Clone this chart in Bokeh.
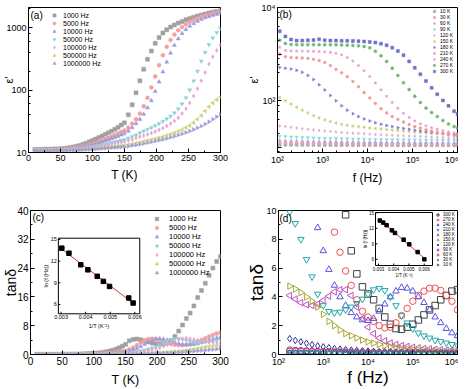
import numpy as np
from bokeh.plotting import figure
from bokeh.layouts import row, column
from bokeh.models import (Range1d, LinearScale, Legend, LegendItem, Label,
                          SingleIntervalTicker, LogTicker, ColumnDataSource)
from bokeh.embed import file_html
from bokeh.resources import INLINE
from bokeh.core.properties import value

NA = float("nan")
FONT = "Liberation Sans"
HP = np.pi / 2

# ---------------- panel (a) / (c): temperature sweeps ----------------
T_A = [10, 15, 20, 25, 30, 35, 40, 45, 50, 55, 60, 65, 70, 75, 80, 85, 90, 95, 100, 105,
       110, 115, 120, 125, 130, 135, 140, 145, 150,
       156, 162, 168, 174, 180, 186, 192, 198, 204, 210, 216, 222, 228, 234, 240, 246,
       252, 258, 264, 270, 276, 282, 288, 294, 300]
FREQ_LABELS = ["1000 Hz", "5000 Hz", "10000 Hz", "50000 Hz", "100000 Hz", "500000 Hz", "1000000 Hz"]

EPS_1000 = [11.2, 11.2, 11.2, 11.3, 11.3, 11.3, 11.4, 11.4, 11.5, 11.6, 11.8, 12.0, 12.3, 12.6, 13.0, 13.5, 14.1, 14.8, 15.6, 16.4,
            17.3, 18.4, 19.5, 20.7, 22.0, 23.6, 25.4, 27.5, 29.8,
            40, 58, 90, 140, 215, 310, 420, 560, 690, 820, 920, 1020, 1100, 1180, 1250, 1330, 1400, 1460, 1530, 1590, 1650, 1710, 1760, 1810, 1860]
EPS_5000 = [11.1, 11.1, 11.1, 11.1, 11.2, 11.2, 11.2, 11.3, 11.3, 11.4, 11.5, 11.6, 11.8, 12.0, 12.2, 12.5, 12.9, 13.3, 13.8, 14.3,
            14.9, 15.6, 16.4, 17.2, 18.1, 19.1, 20.2, 21.3, 22.5,
            25, 29, 34, 42, 55, 75, 110, 165, 250, 360, 490, 630, 770, 900, 1020, 1130, 1230, 1320, 1400, 1480, 1550, 1620, 1680, 1730, 1780]
EPS_10000 = [11.0, 11.0, 11.0, 11.1, 11.1, 11.1, 11.2, 11.2, 11.3, 11.3, 11.4, 11.5, 11.7, 11.8, 12.0, 12.3, 12.6, 12.9, 13.3, 13.7,
             14.2, 14.8, 15.4, 16.0, 16.7, 17.4, 18.2, 19.1, 20.0,
             22, 25, 29, 34, 41, 52, 68, 95, 135, 195, 280, 390, 520, 660, 800, 930, 1050, 1160, 1260, 1350, 1430, 1500, 1570, 1630, 1690]
EPS_50000 = [10.9, 10.9, 10.9, 11.0, 11.0, 11.0, 11.0, 11.1, 11.1, 11.1, 11.2, 11.3, 11.4, 11.5, 11.6, 11.8, 12.0, 12.2, 12.4, 12.7,
             13.0, 13.3, 13.7, 14.0, 14.4, 14.8, 15.2, 15.6, 16.0,
             17, 18, 19, 20.5, 22, 23.5, 25, 27, 29, 31.5, 34.5, 38, 43, 50, 60, 75, 100, 140, 200, 290, 400, 530, 680, 830, 970]
EPS_100000 = [10.9, 10.9, 10.9, 10.9, 10.9, 11.0, 11.0, 11.0, 11.0, 11.1, 11.1, 11.2, 11.3, 11.4, 11.5, 11.6, 11.8, 12.0, 12.2, 12.4,
              12.6, 12.9, 13.1, 13.4, 13.7, 14.0, 14.3, 14.6, 15.0,
              15.5, 16.2, 17, 17.8, 18.6, 19.5, 20.5, 21.6, 23, 24.5, 26.5, 29, 32, 36, 42, 50, 62, 80, 105, 140, 190, 260, 340, 430, 530]
EPS_500000 = [10.8, 10.8, 10.8, 10.8, 10.8, 10.8, 10.9, 10.9, 10.9, 10.9, 11.0, 11.0, 11.1, 11.1, 11.2, 11.3, 11.4, 11.5, 11.6, 11.7,
              11.8, 12.0, 12.1, 12.2, 12.4, 12.5, 12.7, 12.8, 13.0,
              13.3, 13.7, 14.1, 14.5, 15, 15.5, 16, 16.6, 17.2, 17.9, 18.7, 19.6, 20.6, 21.8, 23.2, 25, 27, 30, 34, 39, 46, 54, 62, 70, 77]
EPS_1000000 = [10.7, 10.7, 10.7, 10.7, 10.7, 10.7, 10.8, 10.8, 10.8, 10.8, 10.8, 10.9, 10.9, 11.0, 11.0, 11.1, 11.1, 11.2, 11.3, 11.4,
               11.5, 11.6, 11.7, 11.8, 11.9, 12.0, 12.1, 12.2, 12.3,
               12.6, 12.9, 13.2, 13.5, 13.9, 14.3, 14.7, 15.2, 15.7, 16.2, 16.8, 17.5, 18.2, 19, 19.9, 20.9, 22, 23.3, 24.8, 26.5, 28.5, 31, 34, 37.5, 41]

TAN_1000 = [0.05, 0.05, 0.05, 0.05, 0.05, 0.05, 0.05, 0.06, 0.06, 0.07, 0.08, 0.09, 0.1, 0.12, 0.15, 0.18, 0.22, 0.27, 0.33, 0.4,
            0.5, 0.62, 0.78, 0.97, 1.2, 1.5, 1.85, 2.3, 2.8,
            3.8, 4.2, 4.3, 4.1, 3.8, 3.5, 3.2, 3.0, 2.9, 3.0, 3.3, 3.9, 5.0, 6.5, 8.2, 10.0, 11.5, 13.5, 15.8, 17.8, 19.8, 22.0, 24.0, 25.8, 27.2]
TAN_5000 = [0.04, 0.04, 0.04, 0.04, 0.04, 0.04, 0.04, 0.05, 0.05, 0.05, 0.06, 0.06, 0.07, 0.08, 0.09, 0.1, 0.12, 0.14, 0.17, 0.2,
            0.24, 0.29, 0.35, 0.42, 0.5, 0.6, 0.72, 0.85, 1.0,
            1.4, 1.9, 2.6, 3.3, 3.9, 4.3, 4.4, 4.3, 4.0, 3.6, 3.2, 2.9, 2.7, 2.6, 2.6, 2.7, 2.9, 3.2, 3.6, 4.0, 4.5, 5.0, 5.4, 5.8, 6.1]
TAN_10000 = [0.03, 0.03, 0.03, 0.03, 0.03, 0.03, 0.04, 0.04, 0.04, 0.04, 0.05, 0.05, 0.06, 0.06, 0.07, 0.08, 0.09, 0.11, 0.13, 0.15,
             0.18, 0.21, 0.25, 0.3, 0.36, 0.43, 0.52, 0.62, 0.75,
             1.0, 1.3, 1.7, 2.2, 2.8, 3.4, 3.9, 4.3, 4.4, 4.3, 4.0, 3.7, 3.3, 3.0, 2.8, 2.7, 2.7, 2.8, 3.0, 3.3, 3.6, 4.0, 4.3, 4.6, 4.9]
TAN_50000 = [0.03, 0.03, 0.03, 0.03, 0.03, 0.03, 0.03, 0.03, 0.03, 0.04, 0.04, 0.04, 0.04, 0.05, 0.05, 0.06, 0.06, 0.07, 0.08, 0.09,
             0.1, 0.12, 0.14, 0.16, 0.19, 0.22, 0.26, 0.31, 0.37,
             0.5, 0.6, 0.8, 1.0, 1.2, 1.5, 1.8, 2.2, 2.7, 3.2, 3.7, 4.1, 4.4, 4.4, 4.2, 3.9, 3.7, 3.5, 3.4, 3.4, 3.5, 3.6, 3.8, 4.0, 4.2]
TAN_100000 = [0.02, 0.02, 0.02, 0.02, 0.02, 0.02, 0.02, 0.03, 0.03, 0.03, 0.03, 0.03, 0.04, 0.04, 0.04, 0.05, 0.05, 0.06, 0.07, 0.08,
              0.09, 0.1, 0.12, 0.14, 0.16, 0.18, 0.21, 0.25, 0.3,
              0.4, 0.5, 0.6, 0.75, 0.9, 1.1, 1.3, 1.6, 1.9, 2.3, 2.7, 3.2, 3.7, 4.1, 4.4, 4.5, 4.4, 4.2, 4.0, 3.8, 3.6, 3.5, 3.4, 3.35, 3.3]
TAN_500000 = [0.02, 0.02, 0.02, 0.02, 0.02, 0.02, 0.02, 0.02, 0.02, 0.02, 0.02, 0.03, 0.03, 0.03, 0.03, 0.04, 0.04, 0.04, 0.05, 0.05,
              0.06, 0.07, 0.08, 0.09, 0.1, 0.11, 0.13, 0.15, 0.18,
              0.2, 0.22, 0.25, 0.28, 0.32, 0.36, 0.4, 0.45, 0.5, 0.56, 0.63, 0.7, 0.8, 0.9, 1.0, 1.15, 1.3, 1.5, 1.7, 1.9, 2.1, 2.3, 2.4, 2.5, 2.5]
TAN_1000000 = [0.01, 0.01, 0.01, 0.01, 0.01, 0.01, 0.01, 0.01, 0.01, 0.02, 0.02, 0.02, 0.02, 0.02, 0.02, 0.03, 0.03, 0.03, 0.03, 0.04,
               0.04, 0.05, 0.05, 0.06, 0.07, 0.08, 0.09, 0.11, 0.13,
               0.15, 0.17, 0.19, 0.21, 0.23, 0.26, 0.29, 0.32, 0.35, 0.39, 0.43, 0.48, 0.53, 0.59, 0.65, 0.72, 0.8, 0.9, 1.0, 1.1, 1.2, 1.3, 1.4, 1.5, 1.6]

# inset of (c): ln f versus 1/T
INV_T_C = [0.00303, 0.00332, 0.0038, 0.00409, 0.00447, 0.00472, 0.00497, 0.00575, 0.00593]
LN_F_C = [13.8, 13.1, 11.5, 10.8, 9.9, 9.2, 8.5, 6.9, 6.2]

# ---------------- panel (b): eps' versus frequency ----------------
F_B = [112, 150, 200, 266, 355, 473, 631, 841, 1122, 1496, 1995, 2661, 3548, 4732, 6310, 8414, 11220,
       14962, 19953, 26607, 35481, 47315, 63096, 84140, 112202, 149624, 199526, 266073, 354813,
       473151, 630957, 841395, 1000000]
TEMP_LABELS_B = ["10 K", "30 K", "60 K", "90 K", "120 K", "150 K", "180 K", "210 K", "240 K", "270 K", "300 K"]
EPS_10K = [11.5, 11.48, 11.46, 11.44, 11.42, 11.4, 11.38, 11.36, 11.35, 11.34, 11.33, 11.32, 11.31, 11.3, 11.29, 11.28, 11.27,
           11.26, 11.25, 11.24, 11.23, 11.22, 11.21, 11.2, 11.19, 11.18, 11.17, 11.16, 11.15, 11.14, 11.13, 11.12, 11.1]
EPS_30K = [12.6, 12.55, 12.5, 12.45, 12.4, 12.38, 12.35, 12.32, 12.3, 12.28, 12.26, 12.24, 12.22, 12.2, 12.18, 12.16, 12.14,
           12.12, 12.1, 12.08, 12.06, 12.04, 12.02, 12.0, 11.98, 11.96, 11.94, 11.92, 11.9, 11.88, 11.86, 11.84, 11.82]
EPS_60K = [14.2, 14.0, 13.9, 13.8, 13.7, 13.6, 13.55, 13.5, 13.45, 13.4, 13.35, 13.3, 13.25, 13.2, 13.15, 13.1, 13.05,
           13.0, 12.98, 12.95, 12.92, 12.9, 12.88, 12.85, 12.82, 12.8, 12.78, 12.75, 12.72, 12.7, 12.68, 12.65, 12.6]
EPS_90K = [17.5, 17.2, 16.9, 16.7, 16.5, 16.3, 16.1, 16.0, 15.8, 15.7, 15.6, 15.5, 15.4, 15.3, 15.2, 15.1, 15.0,
           14.95, 14.9, 14.85, 14.8, 14.75, 14.7, 14.65, 14.6, 14.55, 14.5, 14.45, 14.4, 14.35, 14.3, 14.25, 14.2]
EPS_120K = [29, 28, 27, 26, 25.2, 24.5, 23.8, 23.2, 22.6, 22, 21.5, 21, 20.6, 20.2, 19.9, 19.6, 19.3,
            19, 18.7, 18.4, 18.2, 18, 17.8, 17.6, 17.4, 17.2, 17, 16.8, 16.6, 16.4, 16.2, 16, 15.9]
EPS_150K = [118, 100, 85, 73, 63, 55, 48, 43, 39, 36, 33.5, 31.5, 30, 28.8, 27.8, 27, 26.2,
            25.5, 24.8, 24.2, 23.6, 23, 22.5, 22, 21.5, 21, 20.6, 20.2, 19.8, 19.4, 19, 18.7, 18.5]
EPS_180K = [520, 500, 480, 450, 410, 350, 285, 220, 170, 130, 100, 78, 63, 53, 46, 41, 37,
            34, 31.5, 29.5, 28, 26.5, 25.5, 24.5, 23.5, 22.5, 21.8, 21, 20.5, 20, 19.5, 19, 18.8]
EPS_210K = [1000, 880, 850, 840, 830, 810, 780, 730, 660, 570, 470, 400, 330, 260, 200, 150, 115,
            88, 68, 55, 46, 40, 35, 31, 28, 26, 24, 22.5, 21, 20, 19, 18, 17.5]
EPS_240K = [1400, 1200, 1170, 1160, 1160, 1150, 1150, 1140, 1120, 1090, 1040, 960, 850, 710, 570, 440, 330,
            240, 172, 125, 92, 69, 54, 44, 37, 32, 29, 26.5, 24.5, 23, 21.5, 20.5, 20]
EPS_270K = [2000, 1700, 1620, 1600, 1600, 1600, 1600, 1600, 1595, 1590, 1585, 1575, 1560, 1540, 1510, 1460, 1370,
            1150, 920, 700, 500, 350, 245, 175, 125, 92, 70, 56, 46, 38, 32, 28, 26]
EPS_300K = [3100, 2400, 2050, 1950, 1950, 1980, 2000, 2080, 1990, 1950, 1950, 1940, 1930, 1920, 1900, 1870, 1830,
            1770, 1680, 1550, 1380, 1170, 950, 700, 510, 370, 265, 190, 138, 102, 78, 60, 52]

# ---------------- panel (d): tan delta versus frequency ----------------
F_D = [178, 237, 316, 422, 562, 750, 1000, 1334, 1778, 2371, 3162, 4217, 5623, 7499, 10000, 13335,
       17783, 23714, 31623, 42170, 56234, 74989, 100000, 133352, 177828, 237137, 316228, 421697,
       562341, 749894, 1000000]
TEMP_LABELS_D = ["300 K", "270 K", "240 K", "210 K", "180 K", "150 K", "120 K", "90 K", "60 K", "30 K", "10 K"]
TD_300K = [NA, NA, NA, NA, NA, NA, NA, NA, NA, NA, 9.7, 7.2, 5.6, 4.7, 4.2, 3.8, 3.2, 2.6, 2.1, 1.8,
           1.75, 1.9, 2.1, 2.4, 2.75, 3.1, 3.4, 3.8, 4.1, 4.4, 4.5]
TD_270K = [NA, NA, NA, NA, NA, NA, NA, NA, 8.5, 7.1, 5.8, 4.8, 3.8, 3.0, 2.6, 2.3, 2.0, 1.85, 1.9, 2.2,
           2.7, 3.2, 3.7, 4.1, 4.4, 4.6, 4.6, 4.45, 4.1, 3.7, 3.1]
TD_240K = [NA, NA, NA, NA, NA, 8.8, 7.2, 5.9, 4.8, 4.0, 3.4, 2.9, 2.6, 2.4, 2.35, 2.5, 3.0, 3.5, 4.0, 4.4,
           4.65, 4.6, 4.4, 4.0, 3.6, 3.1, 2.6, 2.2, 1.8, 1.5, 1.3]
TD_210K = [9.9, 9.1, 8.0, 6.6, 5.4, 4.2, 3.4, 3.0, 2.9, 2.95, 3.1, 3.3, 3.55, 3.85, 4.2, 4.5, 4.6, 4.45, 4.0, 3.4,
           2.7, 2.2, 1.8, 1.5, 1.3, 1.15, 1.0, 0.9, 0.8, 0.7, 0.6]
TD_180K = [4.1, 3.85, 3.6, 3.45, 3.4, 3.5, 3.75, 4.05, 4.35, 4.5, 4.5, 4.1, 3.3, 2.5, 1.9, 1.45, 1.15, 0.95, 0.8, 0.7,
           0.62, 0.56, 0.5, 0.46, 0.42, 0.39, 0.36, 0.33, 0.3, 0.28, 0.26]
TD_150K = [4.75, 4.55, 4.3, 4.0, 3.7, 3.3, 2.8, 2.3, 2.0, 1.7, 1.45, 1.3, 1.15, 1.0, 0.88, 0.78, 0.69, 0.61, 0.54, 0.48,
           0.43, 0.39, 0.35, 0.32, 0.29, 0.27, 0.25, 0.23, 0.21, 0.2, 0.19]
TD_120K = [1.1, 0.98, 0.88, 0.78, 0.68, 0.6, 0.53, 0.47, 0.42, 0.38, 0.34, 0.31, 0.28, 0.26, 0.24, 0.22, 0.2, 0.19, 0.18, 0.17,
           0.16, 0.15, 0.14, 0.13, 0.13, 0.12, 0.12, 0.11, 0.11, 0.1, 0.1]
TD_90K = [0.32, 0.3, 0.28, 0.26, 0.24, 0.22, 0.21, 0.2, 0.19, 0.18, 0.17, 0.16, 0.15, 0.15, 0.14, 0.14, 0.13, 0.13, 0.12, 0.12,
          0.11, 0.11, 0.11, 0.1, 0.1, 0.1, 0.09, 0.09, 0.09, 0.08, 0.08]
TD_60K = [0.22, 0.21, 0.2, 0.19, 0.18, 0.17, 0.16, 0.15, 0.14, 0.14, 0.13, 0.13, 0.12, 0.12, 0.11, 0.11, 0.1, 0.1, 0.1, 0.09,
          0.09, 0.09, 0.08, 0.08, 0.08, 0.08, 0.07, 0.07, 0.07, 0.07, 0.07]
TD_30K = [0.12, 0.12, 0.11, 0.11, 0.1, 0.1, 0.1, 0.09, 0.09, 0.09, 0.08, 0.08, 0.08, 0.08, 0.07, 0.07, 0.07, 0.07, 0.07, 0.06,
          0.06, 0.06, 0.06, 0.06, 0.06, 0.05, 0.05, 0.05, 0.05, 0.05, 0.05]
TD_10K = [0.08, 0.08, 0.07, 0.07, 0.07, 0.06, 0.06, 0.06, 0.06, 0.05, 0.05, 0.05, 0.05, 0.05, 0.04, 0.04, 0.04, 0.04, 0.04, 0.04,
          0.04, 0.03, 0.03, 0.03, 0.03, 0.03, 0.03, 0.03, 0.03, 0.03, 0.03]

# inset of (d)
INV_T_D = [0.00309, 0.00331, 0.00353, 0.00388, 0.00408, 0.00465, 0.00502, 0.00557, 0.00601]
LN_F_D = [13.5, 13.1, 12.6, 11.6, 11.1, 9.8, 8.9, 7.4, 6.0]

DEC_LABELS = {100: "10²", 1000: "10³", 10000: "10⁴", 100000: "10⁵", 1000000: "10⁶"}

# ---------------- styles ----------------
FREQ_COLORS = ["#a0a0a0", "#f4a0a0", "#9a9ae0", "#88d4d4", "#e8a0d8", "#d0d080", "#a0a0d4"]
FREQ_MARKERS = [("square", 0), ("circle", 0), ("triangle", 0), ("inverted_triangle", 0),
                ("diamond", 0), ("triangle", HP), ("triangle", -HP)]
B_COLORS = ["#a8a8a8", "#f0a0a0", "#a8a8e8", "#88d4d4", "#e8a0d0", "#cccc78", "#7c7cd0",
            "#f09898", "#e890c8", "#70b870", "#7070cc"]
B_MARKERS = [("square", 0), ("circle", 0), ("triangle", 0), ("inverted_triangle", 0), ("diamond", 0),
             ("triangle", HP), ("triangle", -HP), ("hex", 0), ("star", 0), ("circle", 0), ("square", 0)]
D_COLORS = ["#404040", "#f05050", "#5555e0", "#20a8a8", "#c050c0", "#a8a830", "#303098",
            "#7a3aa8", "#d04848", "#20a080", "#3a5ab8"]
D_MARKERS = [("square", 0), ("circle", 0), ("triangle", 0), ("inverted_triangle", 0), ("triangle", HP),
             ("triangle", -HP), ("diamond", 0), ("hex", 0), ("circle", 0), ("star", 0), ("hex", 0)]


def make_fig(w, h, borders, xr, yr, xt="linear", yt="linear", tick_px=9):
    l, r, t, b = borders
    p = figure(width=w, height=h, x_range=xr, y_range=yr, x_axis_type=xt, y_axis_type=yt,
               toolbar_location=None, output_backend="svg", title=None,
               min_border_left=l, min_border_right=r, min_border_top=t, min_border_bottom=b)
    p.xgrid.visible = False
    p.ygrid.visible = False
    p.outline_line_color = "black"
    p.outline_line_width = 1
    p.background_fill_color = "white"
    p.border_fill_color = "white"
    for ax in (p.xaxis[0], p.yaxis[0]):
        ax.axis_line_color = "black"
        ax.major_tick_line_color = "black"
        ax.minor_tick_line_color = "black"
        ax.major_tick_in = 4
        ax.major_tick_out = 0
        ax.minor_tick_in = 2
        ax.minor_tick_out = 0
        ax.major_label_text_font = FONT
        ax.major_label_text_font_size = f"{tick_px}px"
        ax.major_label_text_color = "black"
        ax.major_label_standoff = 2
        ax.axis_label_text_font = FONT
        ax.axis_label_text_font_style = "normal"
        ax.axis_label_text_color = "black"
    return p


def axis_title(ax, text, px, standoff):
    ax.axis_label = text
    ax.axis_label_text_font_size = f"{px}px"
    ax.axis_label_standoff = standoff


def overrides(d):
    out = {}
    for k, v in d.items():
        out[float(k)] = v
        out[str(k)] = v
    return out


def label(p, text, x, y, px, angle=0.0, align="center", baseline="middle"):
    p.add_layout(Label(x=x, y=y, x_units="screen", y_units="screen", text=text,
                       text_font=FONT, text_font_size=f"{px}px", text_align=align,
                       text_baseline=baseline, angle=angle, text_color="black"))


def legend(p, items, loc, px, g, standoff):
    lg = Legend(items=[LegendItem(label=l, renderers=[r]) for l, r in items], location=loc,
                orientation="vertical", label_text_font=FONT, label_text_font_size=f"{px}px",
                label_text_color="black", glyph_width=g, glyph_height=g, label_height=g,
                label_width=10, label_standoff=standoff, spacing=0, padding=0, margin=0,
                border_line_alpha=0, background_fill_alpha=0)
    p.add_layout(lg, "center")


def scatter_series(p, xs, ys, color, mk, size, hollow=False):
    src = ColumnDataSource(dict(x=np.array(xs, dtype=float), y=np.array(ys, dtype=float)))
    marker, ang = mk
    if hollow:
        return p.scatter("x", "y", source=src, marker=marker, angle=ang, size=size,
                         fill_alpha=0, line_color=color, line_width=1)
    return p.scatter("x", "y", source=src, marker=marker, angle=ang, size=size,
                     fill_color=color, line_color=color, line_width=0.5)


def inset(p, frame_w, frame_h, box, lim, xs, ys, xticks, xtick_txt, yticks, ytick_txt, px,
          ylab_off, xlab_off, msize):
    bl, br, bb, bt = box
    x0, x1, y0, y1 = lim
    dxp = (x1 - x0) / (br - bl)
    dyp = (y1 - y0) / (bt - bb)
    p.extra_x_ranges = {"ix": Range1d(x0 - bl * dxp, x0 + (frame_w - bl) * dxp)}
    p.extra_y_ranges = {"iy": Range1d(y0 - bb * dyp, y0 + (frame_h - bb) * dyp)}
    p.extra_x_scales = {"ix": LinearScale()}
    p.extra_y_scales = {"iy": LinearScale()}
    kw = dict(x_range_name="ix", y_range_name="iy")
    p.quad(left=[x0], right=[x1], bottom=[y0], top=[y1], fill_color="white",
           line_color="black", line_width=1, **kw)
    nx, ny = len(xticks), len(yticks)
    p.segment(x0=xticks, x1=xticks, y0=[y0] * nx, y1=[y0 + 2 * dyp] * nx, line_color="black", **kw)
    p.segment(x0=[x0] * ny, x1=[x0 + 2 * dxp] * ny, y0=yticks, y1=yticks, line_color="black", **kw)
    tf = value(FONT)
    p.text(x=xticks, y=[y0] * nx, text=xtick_txt, y_offset=1.5, text_align="center",
           text_baseline="top", text_font=tf, text_font_size=f"{px}px", text_color="black", **kw)
    p.text(x=[x0] * ny, y=yticks, text=ytick_txt, x_offset=-1.5, text_align="right",
           text_baseline="middle", text_font=tf, text_font_size=f"{px}px", text_color="black", **kw)
    p.text(x=[(x0 + x1) / 2], y=[y0], text=["1/T (K⁻¹)"], y_offset=xlab_off, text_align="center",
           text_baseline="top", text_font=tf, text_font_size=f"{px}px", text_color="black", **kw)
    p.text(x=[x0], y=[(y0 + y1) / 2], text=["ln (f (Hz))"], x_offset=ylab_off, angle=HP,
           text_align="center", text_baseline="bottom", text_font=tf, text_font_size=f"{px}px",
           text_color="black", **kw)
    k, c = np.polyfit(np.array(xs), np.array(ys), 1)
    fx = np.array([min(xs), max(xs)])
    p.line(fx, k * fx + c, line_color="#e03030", line_width=1, **kw)
    p.scatter(xs, ys, marker="square", size=msize, color="black", **kw)


# ---------------- (a) ----------------
pa = make_fig(229, 194, (27, 9, 7, 42), Range1d(0, 300), Range1d(10, 2090), yt="log")
pa.xaxis.ticker = SingleIntervalTicker(interval=50, num_minor_ticks=2)
pa.yaxis.ticker = LogTicker()
pa.yaxis.major_label_overrides = overrides({10: "10", 100: "100", 1000: "1000"})
a_series = [EPS_1000, EPS_5000, EPS_10000, EPS_50000, EPS_100000, EPS_500000, EPS_1000000]
ra = [scatter_series(pa, T_A, s, c, m, 4) for s, c, m in zip(a_series, FREQ_COLORS, FREQ_MARKERS)]
legend(pa, list(zip(FREQ_LABELS, ra)), (22, 85), 7, 8, 5)
label(pa, "(a)", 2, 137, 10, align="left")
axis_title(pa.xaxis[0], "T (K)", 12, 4)
axis_title(pa.yaxis[0], "ε'", 11, -12)

# ---------------- (b) ----------------
pb = make_fig(229, 194, (48, 1, 7, 42), Range1d(100, 1e6), Range1d(7.8, 10000), xt="log", yt="log")
pb.xaxis.ticker = LogTicker()
pb.yaxis.ticker = LogTicker()
pb.xaxis.major_label_overrides = overrides(DEC_LABELS)
pb.yaxis.major_label_overrides = overrides({10: "", 100: "10²", 1000: "", 10000: "10⁴"})
b_series = [EPS_10K, EPS_30K, EPS_60K, EPS_90K, EPS_120K, EPS_150K, EPS_180K, EPS_210K, EPS_240K, EPS_270K, EPS_300K]
rb = [scatter_series(pb, F_B, s, c, m, 3) for s, c, m in zip(b_series, B_COLORS, B_MARKERS)]
legend(pb, list(zip(TEMP_LABELS_B, rb)), (154, 78), 5, 6, 3)
label(pb, "(b)", 2, 138, 10, align="left")
axis_title(pb.xaxis[0], "f (Hz)", 12, 3)
axis_title(pb.yaxis[0], "ε'", 11, -1)

# ---------------- (c) ----------------
pc = make_fig(229, 195, (27, 9, 16, 35), Range1d(0, 300), Range1d(0, 40), tick_px=10)
pc.xaxis.ticker = SingleIntervalTicker(interval=50, num_minor_ticks=2)
pc.yaxis.ticker = SingleIntervalTicker(interval=8, num_minor_ticks=2)
c_series = [TAN_1000, TAN_5000, TAN_10000, TAN_50000, TAN_100000, TAN_500000, TAN_1000000]
rc = [scatter_series(pc, T_A, s, c, m, 4) for s, c, m in zip(c_series, FREQ_COLORS, FREQ_MARKERS)]
inset(pc, 193, 144, (28.3, 111, 40.7, 116.3), (0.00289, 0.0062, 4.71, 15.18), INV_T_C, LN_F_C,
      [0.003, 0.004, 0.005, 0.006], ["0.003", "0.004", "0.005", "0.006"],
      [6, 9, 12, 15], ["6", "9", "12", "15"], 5.5, -9, 9, 4.5)
legend(pc, list(zip(FREQ_LABELS, rc)), (122, 77), 7.5, 9, 8)
label(pc, "(c)", 2, 137, 10, align="left")
axis_title(pc.xaxis[0], "T (K)", 12.5, 5)
axis_title(pc.yaxis[0], "tanδ", 14, -5)

# ---------------- (d) ----------------
pd = make_fig(229, 195, (49, 1, 16, 35), Range1d(100, 1e6), Range1d(0, 10), xt="log")
pd.xaxis.ticker = LogTicker()
pd.yaxis.ticker = SingleIntervalTicker(interval=2, num_minor_ticks=2)
pd.xaxis.major_label_overrides = overrides(DEC_LABELS)
d_series = [TD_300K, TD_270K, TD_240K, TD_210K, TD_180K, TD_150K, TD_120K, TD_90K, TD_60K, TD_30K, TD_10K]
rd = [scatter_series(pd, F_D, s, c, m, 6.5, hollow=True) for s, c, m in zip(d_series, D_COLORS, D_MARKERS)]
inset(pd, 179, 144, (97, 154, 89, 142), (0.002803, 0.006545, 4.8, 15.06), INV_T_D, LN_F_D,
      [0.003, 0.004, 0.005, 0.006], ["0.003", "0.004", "0.005", "0.006"],
      [6, 9, 12, 15], ["6", "9", "12", "15"], 4.5, -8, 7, 3.5)
legend(pd, list(zip(TEMP_LABELS_D, rd)), (157, 87), 4.5, 5, 3)
label(pd, "(d)", 1, 136, 10, align="left")
axis_title(pd.xaxis[0], "f (Hz)", 17, -2)
axis_title(pd.yaxis[0], "tanδ", 19, -4)

layout = column(row(pa, pb), row(pc, pd))
open("out.html", "w").write(file_html(layout, INLINE))
